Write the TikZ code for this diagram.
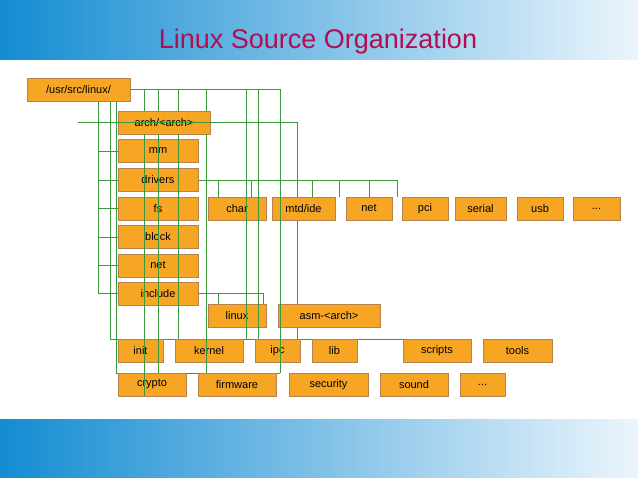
\documentclass[tikz,border=0pt]{standalone}
\usepackage{fontspec}
\setmainfont{Liberation Sans}
\begin{document}
\begin{tikzpicture}[x=1pt,y=-1pt,
 bx/.style={draw=orange!60!black!70,fill={rgb,255:red,246;green,166;blue,35},inner sep=0pt,outer sep=0pt,font=\fontsize{11}{13}\selectfont},
 ln/.style={draw={rgb,255:red,60;green,150;blue,60},line width=0.6pt}]
\useasboundingbox (0,0) rectangle (638,478);
\shade[left color={rgb,255:red,20;green,140;blue,210},right color={rgb,255:red,235;green,245;blue,252}] (0,0) rectangle (638,60);
\shade[left color={rgb,255:red,20;green,140;blue,210},right color={rgb,255:red,235;green,245;blue,252}] (0,420) rectangle (638,478);
\node[text={rgb,255:red,175;green,15;blue,80},font=\fontsize{27}{30}\selectfont] (title) at (318,42) {Linux Source Organization};
\newcommand\bx[6]{\node[bx,minimum width={#4-#2},minimum height={#5-#3}] (#1) at ({(#2+#4)/2},{(#3+#5)/2}) {#6};}
% connectors (under boxes)
\coordinate (t1) at (98,89); \coordinate (t2) at (281,89);
\draw[ln] (t1) -- (t2);
\foreach \x/\y in {98/293,110/339,116/373,144/396,158/373,178/339,206/373,246/339,258/339,280/373}{\draw[ln] (\x,89) -- (\x,\y);}
\foreach \y in {151,180,208,237,265,293}{\draw[ln] (98,\y) -- (118,\y);}
\draw[ln] (78,122) -- (297,122) -- (297,339);
\draw[ln] (110,339) -- (403,339);
\draw[ln] (116,373) -- (280,373);
\draw[ln] (198,180) -- (397,180);
\foreach \x in {218,251,280,312,339,369,397}{\draw[ln] (\x,180) -- (\x,197);}
\draw[ln] (198,293) -- (263,293) -- (263,304);
\draw[ln] (218,293) -- (218,304);
% boxes
\bx{root}{27}{78}{130}{101}{/usr/src/linux/}
\bx{arch}{118}{111}{210}{134}{arch/<arch>}
\bx{mm}{118}{139}{198}{162}{mm}
\bx{drivers}{118}{168}{198}{191}{drivers}
\bx{fs}{118}{197}{198}{220}{fs}
\bx{block}{118}{225}{198}{248}{block}
\bx{net}{118}{254}{198}{277}{net}
\bx{include}{118}{282}{198}{305}{include}
\bx{char}{208}{197}{266}{220}{char}
\bx{mtd}{272}{197}{335}{220}{mtd/ide}
\bx{dnet}{346}{197}{392}{220}{net}
\bx{pci}{402}{197}{448}{220}{pci}
\bx{serial}{455}{197}{506}{220}{serial}
\bx{usb}{517}{197}{563}{220}{usb}
\bx{ddots}{573}{197}{620}{220}{...}
\bx{linux}{208}{304}{266}{327}{linux}
\bx{asm}{278}{304}{380}{327}{asm-<arch>}
\bx{init}{118}{339}{163}{362}{init}
\bx{kernel}{175}{339}{243}{362}{kernel}
\bx{ipc}{255}{339}{300}{362}{ipc}
\bx{lib}{312}{339}{357}{362}{lib}
\bx{scripts}{403}{339}{471}{362}{scripts}
\bx{tools}{483}{339}{552}{362}{tools}
\bx{crypto}{118}{373}{186}{396}{crypto}
\bx{firmware}{198}{373}{276}{396}{firmware}
\bx{security}{289}{373}{368}{396}{security}
\bx{sound}{380}{373}{448}{396}{sound}
\bx{rdots}{460}{373}{505}{396}{...}
% lines drawn over boxes as in reference
\foreach \x/\y in {144/396,158/373,178/339,206/373,246/339,258/339,280/373}{\draw[ln] (\x,134) -- (\x,\y);}
\draw[ln] (78,122) -- (297,122);
\end{tikzpicture}
\end{document}
